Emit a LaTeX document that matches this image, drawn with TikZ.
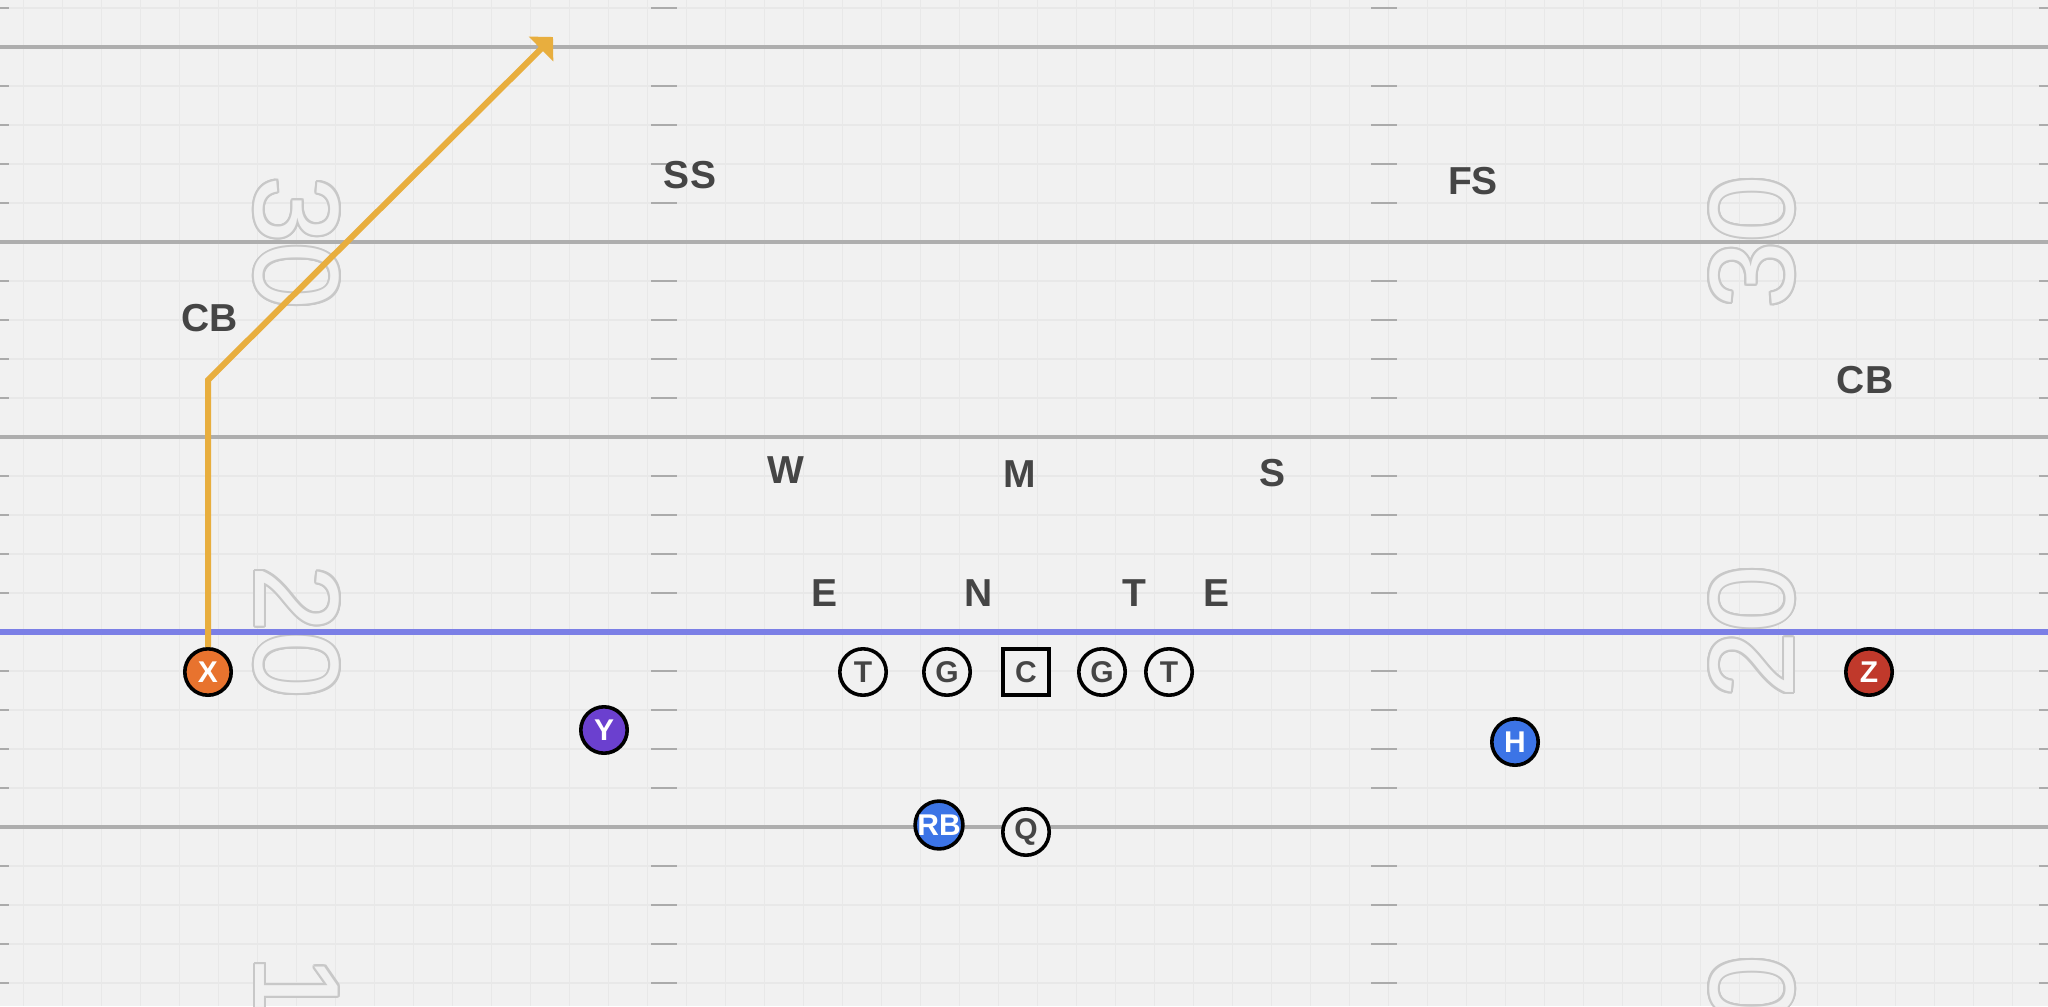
\documentclass[tikz,border=0pt]{standalone}
\usepackage{fontspec}
\setmainfont{Liberation Sans}
\usepackage[copies]{contour}
\usepackage{tikz}
\usetikzlibrary{arrows.meta, positioning}

\definecolor{fieldbg}{HTML}{F1F1F1}
\definecolor{gridgray}{HTML}{E8E8E8}
\definecolor{linegray}{HTML}{AEAEAE}
\definecolor{hashgray}{HTML}{ABABAB}
\definecolor{numgray}{HTML}{C8C8C8}
\definecolor{losblue}{HTML}{7B7FE6}
\definecolor{routegold}{HTML}{E8AE3E}
\definecolor{labelgray}{HTML}{454545}
\definecolor{xorange}{HTML}{E8732E}
\definecolor{ypurple}{HTML}{6B40CF}
\definecolor{hblue}{HTML}{3C74E6}
\definecolor{zred}{HTML}{C0392B}

\contourlength{1pt}
\newcommand{\yardnum}[1]{\contour{numgray}{\textcolor{fieldbg}{#1}}}

\begin{document}
\begin{tikzpicture}[x=0.5pt, y=-0.5pt,
	gridline/.style={gridgray, line width=0.8pt},
	hashmark/.style={hashgray, line width=1pt},
	yardline/.style={linegray, line width=2.2pt},
	los/.style={losblue, line width=3.2pt},
	route/.style={routegold, line width=3pt, -{Triangle[width=17pt, length=8.5pt]}},
	fieldnum/.style={font=\fontsize{60pt}{60pt}\selectfont, inner sep=0pt},
	lbl/.style={text=labelgray, font=\fontsize{19.5pt}{20pt}\selectfont\bfseries, inner sep=0pt},
	plr/.style={circle, draw=black, line width=1.8pt, minimum size=23.2pt, inner sep=0pt,
		font=\fontsize{15pt}{15pt}\selectfont\bfseries},
	oline/.style={plr, fill=fieldbg, text=labelgray},
	skill/.style={plr, fill=#1, text=white}]
	\useasboundingbox (0,0) rectangle (2048,1006);
	\clip (0,0) rectangle (2048,1006);
	\fill[fieldbg] (0,0) rectangle (2048,1006);
	% grid and hash marks
	\foreach \gx in {0,...,52}
		\draw[gridline] (23.5+39*\gx,0) -- (23.5+39*\gx,1006);
	\foreach \hy in {0,...,25} {
		\draw[gridline] (0,8+39*\hy) -- (2048,8+39*\hy);
		\draw[hashmark] (0,8+39*\hy) -- (9,8+39*\hy);
		\draw[hashmark] (651,8+39*\hy) -- (677,8+39*\hy);
		\draw[hashmark] (1371,8+39*\hy) -- (1397,8+39*\hy);
		\draw[hashmark] (2039,8+39*\hy) -- (2048,8+39*\hy);
	}
	% yard numbers
	\node[fieldnum, rotate=-90] (n30l) at (296,243) {\yardnum{30}};
	\node[fieldnum, rotate=-90] (n20l) at (296,632) {\yardnum{20}};
	\node[fieldnum, rotate=-90] (n10l) at (296,1022) {\yardnum{10}};
	\node[fieldnum, rotate=90] (n30r) at (1753,242) {\yardnum{30}};
	\node[fieldnum, rotate=90] (n20r) at (1753,632) {\yardnum{20}};
	\node[fieldnum, rotate=90] (n10r) at (1753,1022) {\yardnum{10}};
	% yard lines
	\foreach \ly in {47,242,437,827}
		\draw[yardline] (0,\ly) -- (2048,\ly);
	\draw[los] (0,632) -- (2048,632);
	% offense
	\node[skill=xorange] (X) at (208,672) {X};
	\node[skill=ypurple] (Y) at (604,730) {Y};
	\node[oline] (lt) at (863,672) {T};
	\node[oline] (lg) at (947,672) {G};
	\node[oline, rectangle, minimum size=23pt] (C) at (1026,672) {C};
	\node[oline] (rg) at (1102,672) {G};
	\node[oline] (rt) at (1169,672) {T};
	\node[skill=hblue] (RB) at (939,825) {RB};
	\node[oline] (Q) at (1026,832) {Q};
	\node[skill=hblue] (H) at (1515,742) {H};
	\node[skill=zred] (Z) at (1869,672) {Z};
	% route of X
	\coordinate (brk) at (208,380);
	\coordinate (tip) at (553,37);
	\draw[route] (X.north) -- (brk) -- (tip);
	% defense
	\node[lbl] (cbl) at (210,318) {CB};
	\node[lbl] (ss) at (690,175) {SS};
	\node[lbl] (fs) at (1473,181) {FS};
	\node[lbl] (cbr) at (1865,380) {CB};
	\node[lbl] (w) at (786,470) {W};
	\node[lbl] (m) at (1020,474) {M};
	\node[lbl] (s) at (1272,473) {S};
	\node[lbl] (le) at (824,593) {E};
	\node[lbl] (n) at (979,593) {N};
	\node[lbl] (t) at (1134,593) {T};
	\node[lbl] (re) at (1216,593) {E};
\end{tikzpicture}
\end{document}
